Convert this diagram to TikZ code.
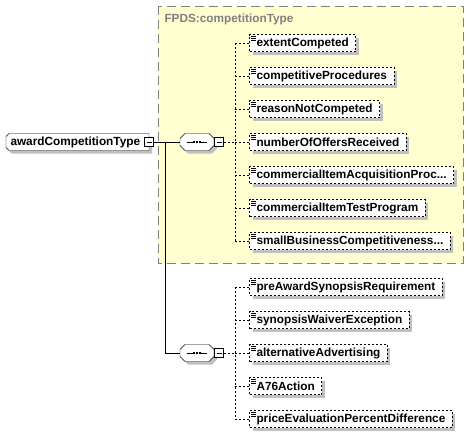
\documentclass[tikz,border=0pt]{standalone}
\usepackage{fontspec}
\setmainfont{Liberation Sans}
\usetikzlibrary{shadows}
\pgfdeclarelayer{background}
\pgfsetlayers{background,main}
\definecolor{grpfill}{RGB}{255,255,208}
\definecolor{grpline}{RGB}{128,128,128}
\definecolor{shadowgray}{RGB}{192,192,192}
\newcommand{\efont}{\fontsize{11.8}{13}\selectfont\bfseries}
% outline with cut corners round a node: #1 node, #2 west cut, #3 east cut
\newcommand{\octa}[3]{([xshift=#2pt]#1.north west) -- ([xshift=-#3pt]#1.north east) -- ([yshift=-#3pt]#1.north east)
    -- ([yshift=#3pt]#1.south east) -- ([xshift=-#3pt]#1.south east) -- ([xshift=#2pt]#1.south west)
    -- ([yshift=#2pt]#1.south west) -- ([yshift=-#2pt]#1.north west) -- cycle}
\newcommand{\seqdots}{\rule[0.5pt]{6pt}{1pt}\rule{2pt}{2pt}\hspace{1pt}\rule{2pt}{2pt}\hspace{1pt}\rule{2pt}{2pt}\rule[0.5pt]{6pt}{1pt}}

\tikzset{
    shade box/.style={drop shadow={fill=shadowgray, opacity=1, shadow xshift=3pt, shadow yshift=-3pt}},
    elem/.style={draw, dash pattern=on 2pt off 2pt, fill=white, shade box, anchor=west,
        minimum height=17pt, inner xsep=7pt, inner ysep=0pt, font=\efont,
        path picture={\foreach \d in {1.5,3.5,5.5}
            \draw[solid, line width=0.8pt] ([xshift=1.5pt,yshift=-\d pt]path picture bounding box.north west) -- ++(5pt,0pt);}},
    rootbox/.style={anchor=west, minimum height=16pt, inner xsep=4pt, inner ysep=0pt,
        text width=134pt, align=left, font=\efont},
    seqbox/.style={anchor=west, minimum width=33pt, minimum height=16pt, inner sep=0pt},
    minus/.style={draw, fill=white, minimum size=9pt, inner sep=0pt,
        path picture={\draw ([xshift=2pt]path picture bounding box.west) -- ([xshift=-2pt]path picture bounding box.east);}},
    group/.style={draw=grpline, fill=grpfill, dash pattern=on 9pt off 5pt},
    tree/.style={dash pattern=on 2pt off 2pt}
}

\begin{document}
\begin{tikzpicture}[x=1pt, y=-1pt, line width=1pt]
    \useasboundingbox (0,0) rectangle (469,434);
    \node[anchor=west, text=grpline, font=\efont, inner sep=0pt] (title) at (164,19) {FPDS:competitionType};

    \node[rootbox] (root) at (6,142) {awardCompetitionType};
    \node[minus] (rootminus) at (root.east) {};

    \node[seqbox] (seqA) at (180,142) {\seqdots};
    \node[minus, anchor=west] (seqAminus) at (seqA.east) {};
    \node[seqbox] (seqB) at (180,353) {\seqdots};
    \node[minus, anchor=west] (seqBminus) at (seqB.east) {};

    % first sequence
    \node[elem] (extentCompeted) at (249,43) {extentCompeted};
    \node[elem] (competitiveProcedures) at (249,76) {competitiveProcedures};
    \node[elem] (reasonNotCompeted) at (249,109) {reasonNotCompeted};
    \node[elem] (numberOfOffersReceived) at (249,142) {numberOfOffersReceived};
    \node[elem] (commercialItemAcq) at (249,175) {commercialItemAcquisitionProc...};
    \node[elem] (commercialItemTest) at (249,208) {commercialItemTestProgram};
    \node[elem] (smallBusiness) at (249,241) {smallBusinessCompetitiveness...};

    % second sequence
    \node[elem] (preAward) at (249,287) {preAwardSynopsisRequirement};
    \node[elem] (synopsisWaiver) at (249,320) {synopsisWaiverException};
    \node[elem] (alternativeAdvertising) at (249,353) {alternativeAdvertising};
    \node[elem] (aAction) at (249,386) {A76Action};
    \node[elem] (priceEvaluation) at (249,419) {priceEvaluationPercentDifference};

    % complex type box and cut-corner outlines behind the texts
    \begin{pgfonlayer}{background}
        \draw[group] (158,6) rectangle (463,263);
        \filldraw[fill=white, shade box] \octa{root}{3}{0};
        \filldraw[fill=white, shade box] \octa{seqA}{5}{5};
        \filldraw[fill=white, shade box] \octa{seqB}{5}{5};
    \end{pgfonlayer}

    % connectors
    \coordinate (fork) at (165,142);
    \draw (rootminus.east) -- (seqA.west);
    \draw (fork) |- (seqB.west);

    \coordinate (busA) at (235,142);
    \draw[tree] (seqAminus.east) -- (busA);
    \draw[tree] (extentCompeted.west -| busA) -- (smallBusiness.west -| busA);
    \foreach \n in {extentCompeted,competitiveProcedures,reasonNotCompeted,numberOfOffersReceived,commercialItemAcq,commercialItemTest,smallBusiness}
        \draw[tree] (\n.west -| busA) -- (\n.west);

    \coordinate (busB) at (235,353);
    \draw[tree] (seqBminus.east) -- (busB);
    \draw[tree] (preAward.west -| busB) -- (priceEvaluation.west -| busB);
    \foreach \n in {preAward,synopsisWaiver,alternativeAdvertising,aAction,priceEvaluation}
        \draw[tree] (\n.west -| busB) -- (\n.west);
\end{tikzpicture}
\end{document}
